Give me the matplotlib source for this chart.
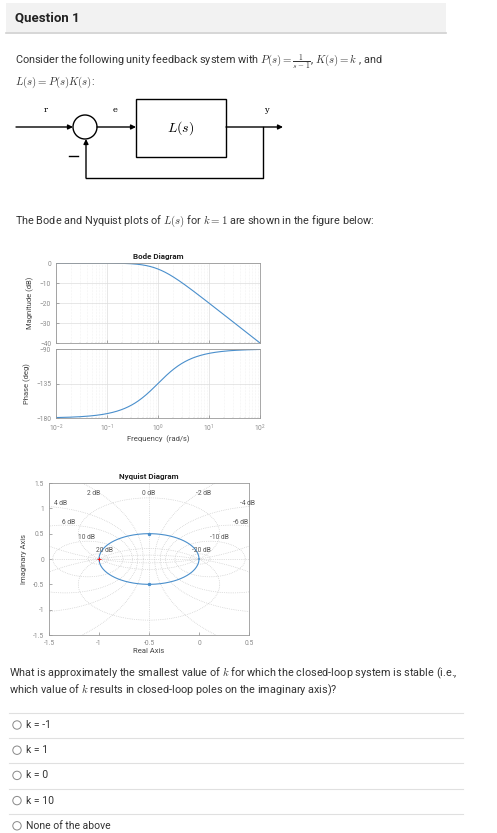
import numpy as np
import matplotlib
matplotlib.use("Agg")
import matplotlib.pyplot as plt
from matplotlib.patches import Rectangle, Circle

plt.rcParams['font.family'] = ['Roboto', 'DejaVu Sans']
plt.rcParams['mathtext.fontset'] = 'cm'

# ---- data ----
num = [1.0]          # P(s) numerator
den = [1.0, -1.0]    # P(s) denominator (s - 1)
k_plot = 1.0
mag_ticks = [0, -10, -20, -30, -40]
phase_ticks = [-90, -135, -180]
nyq_xticks = [-1.5, -1, -0.5, 0, 0.5]
nyq_yticks = [-1.5, -1, -0.5, 0, 0.5, 1, 1.5]
m_db = [-20, -10, -6, -4, -2, 2, 4, 6, 10, 20]
m_labels = {2: (-1.05, 1.3), 0: (-0.5, 1.3), -2: (0.05, 1.3), 4: (-1.38, 1.1),
            -4: (0.48, 1.1), 6: (-1.3, 0.73), -6: (0.42, 0.73), 10: (-1.12, 0.42),
            -10: (0.2, 0.42), 20: (-0.95, 0.17), -20: (0.02, 0.17)}
options = ["k = -1", "k = 1", "k = 0", "k = 10", "None of the above"]

W, H = 497, 833
fig = plt.figure(figsize=(W/100, H/100), dpi=100)
bg = fig.add_axes([0, 0, 1, 1])
bg.set_xlim(0, W); bg.set_ylim(H, 0); bg.axis('off')

# header
bg.add_patch(Rectangle((6, 3), 440, 29, color='#f2f2f2', lw=0))
bg.plot([6, 446], [32.5, 32.5], color='#d0d0d0', lw=1.2)
bg.text(15, 18, "Question 1", fontsize=9.5, fontweight='bold', va='center', color='#222')

tc = '#333333'
fs = 7.8
bg.text(15, 62, r"Consider the following unity feedback system with $P(s)=\frac{1}{s-1}$, $K(s)=k$ , and",
        fontsize=fs, va='center', color=tc)
bg.text(15, 82, r"$L(s)=P(s)K(s)$:", fontsize=fs, va='center', color=tc)

# block diagram
k_ = 'black'
bg.add_patch(Rectangle((136, 99), 90, 58, fill=False, ec=k_, lw=1))
bg.text(181, 128, r"$L(s)$", fontsize=10, ha='center', va='center')
bg.add_patch(Circle((85, 127), 12, fill=False, ec=k_, lw=1))
ak = dict(arrowstyle='-|>', color=k_, lw=1, mutation_scale=7, shrinkA=0, shrinkB=0)
bg.annotate('', xy=(73, 127), xytext=(16, 127), arrowprops=ak)
bg.annotate('', xy=(136, 127), xytext=(97, 127), arrowprops=ak)
bg.annotate('', xy=(283, 127), xytext=(226, 127), arrowprops=ak)
bg.plot([263, 263, 86], [127, 178, 178], color=k_, lw=1)
bg.annotate('', xy=(86, 139), xytext=(86, 178), arrowprops=ak)
bg.plot([69, 78], [156, 156], color=k_, lw=1)
bg.text(46, 112, "r", fontsize=6, ha='center', family='serif')
bg.text(115, 112, "e", fontsize=6, ha='center', family='serif')
bg.text(266, 112, "y", fontsize=6, ha='center', family='serif')

bg.text(15, 221, r"The Bode and Nyquist plots of $L(s)$ for $k=1$ are shown in the figure below:",
        fontsize=fs, va='center', color=tc)

# frequency response
w = np.logspace(-2, 2, 500)
L = k_plot * np.polyval(num, 1j*w) / np.polyval(den, 1j*w)
mag = 20*np.log10(np.abs(L))
ph = np.degrees(np.unwrap(np.angle(L)))
ph = np.where(ph > 0, ph - 360, ph)

line_c = '#4a8fcc'
gc = '#8a8a8a'
def style(ax):
    for s in ax.spines.values():
        s.set_color('#999999'); s.set_linewidth(0.6)
    ax.tick_params(labelsize=4.8, colors=gc, length=2, width=0.5, which='major', direction='in')
    ax.tick_params(which='minor', length=1, width=0.3, colors='#bbbbbb', direction='in')
    ax.grid(True, which='major', color='#dddddd', lw=0.5)

def fr(x0, y0, x1, y1):
    return [x0/W, 1-y1/H, (x1-x0)/W, (y1-y0)/H]

axm = fig.add_axes(fr(56, 263, 260, 343))
axm.semilogx(w, mag, color=line_c, lw=0.8)
axm.set_xlim(1e-2, 1e2); axm.set_ylim(-40, 0)
axm.set_yticks(mag_ticks); axm.set_xticklabels([])
axm.grid(True, which='minor', axis='x', color='#e8e8e8', lw=0.4, ls=':')
style(axm)
axm.set_ylabel("Magnitude (dB)", fontsize=5.5, color='#444')
axm.set_title("Bode Diagram", fontsize=5.8, fontweight='bold', pad=3, color='#222')

axp = fig.add_axes(fr(56, 349, 260, 418))
axp.semilogx(w, ph, color=line_c, lw=0.8)
axp.set_xlim(1e-2, 1e2); axp.set_ylim(-180, -90)
axp.set_yticks(phase_ticks)
axp.grid(True, which='minor', axis='x', color='#e8e8e8', lw=0.4, ls=':')
style(axp)
axp.set_ylabel("Phase (deg)", fontsize=5.5, color='#444')
axp.set_xlabel("Frequency  (rad/s)", fontsize=5.5, color='#444', labelpad=1)

# Nyquist
axn = fig.add_axes(fr(49, 483, 249, 635))
dc = '#c4c4c4'
t = np.linspace(0, 2*np.pi, 400)
for d in m_db:
    M = 10**(d/20)
    c = -M**2/(M**2-1); r = abs(M/(M**2-1))
    axn.plot(c + r*np.cos(t), r*np.sin(t), color=dc, lw=0.5, ls=':')
axn.axvline(-0.5, color=dc, lw=0.5, ls=':')
axn.axhline(0, color=dc, lw=0.5, ls=':')
for cy in [0.5, 1.6, -0.5, -1.6]:
    r = np.hypot(0.5, cy)
    axn.plot(-0.5 + r*np.cos(t), cy + r*np.sin(t), color=dc, lw=0.5, ls=':')
for d, (x, y) in m_labels.items():
    axn.text(x, y, f"{d} dB", fontsize=4.8, color='#555', ha='center', va='center')
wn = np.concatenate([-np.logspace(3, -3, 800), np.logspace(-3, 3, 800)])
Ln = k_plot * np.polyval(num, 1j*wn) / np.polyval(den, 1j*wn)
axn.plot(Ln.real, Ln.imag, color=line_c, lw=0.8)
axn.plot([-0.5, -0.5], [0.5, -0.5], 'o', color=line_c, ms=1.5)
axn.plot([-1], [0], '+', color='red', ms=3, mew=0.6)
axn.set_xlim(-1.5, 0.5); axn.set_ylim(-1.5, 1.5)
axn.set_xticks(nyq_xticks); axn.set_yticks(nyq_yticks)
axn.set_xticklabels(["-1.5", "-1", "-0.5", "0", "0.5"])
axn.set_yticklabels(["-1.5", "-1", "-0.5", "0", "0.5", "1", "1.5"])
style(axn); axn.grid(False)
axn.set_ylabel("Imaginary Axis", fontsize=5.5, color='#444')
axn.set_xlabel("Real Axis", fontsize=5.5, color='#444', labelpad=1)
axn.set_title("Nyquist Diagram", fontsize=5.8, fontweight='bold', pad=3, color='#222')

# question
bg.text(9, 673, r"What is approximately the smallest value of $k$ for which the closed-loop system is stable (i.e.,",
        fontsize=fs, va='center', color=tc)
bg.text(9, 690, r"which value of $k$ results in closed-loop poles on the imaginary axis)?",
        fontsize=fs, va='center', color=tc)
for i, o in enumerate(options):
    yl = 713 + i*25.2
    bg.plot([9, 463], [yl, yl], color='#e0e0e0', lw=0.8)
    yo = yl + 12
    bg.add_patch(Circle((17, yo), 4.2, fill=False, ec='#888', lw=0.7))
    bg.text(26, yo, o, fontsize=7.5, va='center', color=tc)

fig.savefig("out.png", dpi=100)
